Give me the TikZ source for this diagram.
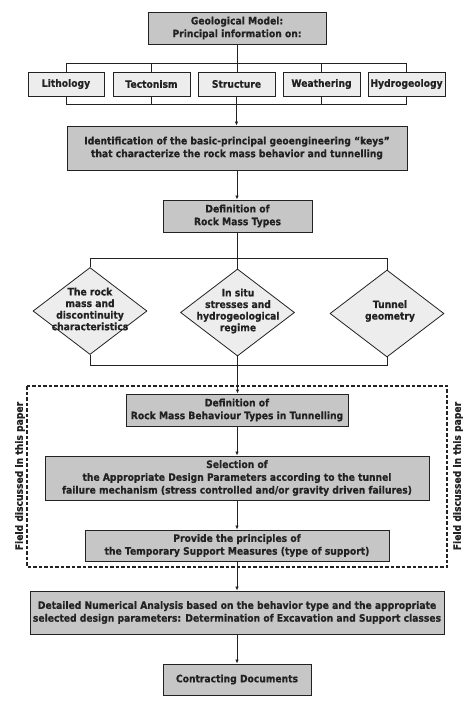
\documentclass[tikz,border=0pt]{standalone}
\usepackage{fontspec}
\setmainfont{DejaVu Sans}[FakeStretch=0.9, BoldFeatures={FakeBold=0.6}]
\usetikzlibrary{shapes.geometric,arrows.meta}
\definecolor{darkfill}{HTML}{C6C6C6}
\definecolor{lightfill}{HTML}{EDEDED}
\definecolor{ink}{HTML}{222222}
\begin{document}
\begin{tikzpicture}[x=1pt,y=-1pt,
  every node/.style={font=\bfseries\fontsize{10.2}{12.8}\selectfont, text=ink, align=center, inner sep=0pt},
  darkbox/.style={draw=ink, line width=0.9pt, fill=darkfill, rectangle},
  lightbox/.style={draw=ink, line width=0.9pt, fill=lightfill, rectangle},
  dia/.style={draw=ink, line width=0.8pt, fill=lightfill, diamond, minimum width=114pt, minimum height=87pt, inner sep=0pt},
  diatext/.style={font=\bfseries\fontsize{10.2}{11.6}\selectfont},
  conn/.style={draw=ink, line width=0.8pt},
  arr/.style={conn, -{Latex[length=4pt,width=3.5pt]}},
  sidelabel/.style={rotate=90, font=\bfseries\fontsize{10.2}{11}\selectfont}]
\useasboundingbox[fill=white] (0,0) rectangle (474,718);

% top
\node[darkbox, minimum width=178pt, minimum height=32pt] (geo) at (237,28) {Geological Model:\\Principal information on:};
\node[lightbox, minimum width=76pt, minimum height=24pt] (lith) at (66,84) {Lithology};
\node[lightbox, minimum width=77pt, minimum height=24pt] (tect) at (151.5,84) {Tectonism};
\node[lightbox, minimum width=77pt, minimum height=24pt] (struc) at (236.5,84) {Structure};
\node[lightbox, minimum width=77pt, minimum height=24pt] (weath) at (321.5,84) {Weathering};
\node[lightbox, minimum width=77pt, minimum height=24pt] (hydro) at (406.5,84) {Hydrogeology};

\node[darkbox, minimum width=340pt, minimum height=44pt] (ident) at (237,148) {Identification of the basic-principal geoengineering ``keys''\\that characterize the rock mass behavior and tunnelling};
\node[darkbox, minimum width=149pt, minimum height=32pt] (rmt) at (237.5,216) {Definition of\\Rock Mass Types};

\node[dia] (d1) at (90,311) {};
\node[dia] (d2) at (237.5,312.5) {};
\node[dia] (d3) at (387,313.5) {};
\node[diatext] (t1) at (90,309) {The rock\\mass and\\discontinuity\\characteristics};
\node[diatext] (t2) at (238,311) {In situ\\stresses and\\hydrogeological\\regime};
\node[diatext] (t3) at (390,311) {Tunnel\\geometry};

% dashed field
\draw[draw=ink, line width=1.4pt, dash pattern=on 3.5pt off 2pt] (27,386) rectangle (447,567);
\node[sidelabel] (fl) at (20,476) {Field discussed in this paper};
\node[sidelabel] (fr) at (458,476) {Field discussed in this paper};

\node[darkbox, minimum width=222pt, minimum height=32pt] (rmbt) at (237,410) {Definition of\\Rock Mass Behaviour Types in Tunnelling};
\node[darkbox, minimum width=384pt, minimum height=44pt] (sel) at (237,478) {Selection of\\the Appropriate Design Parameters according to the tunnel\\failure mechanism (stress controlled and/or gravity driven failures)};
\node[darkbox, minimum width=304pt, minimum height=31pt] (prov) at (237,545.5) {Provide the principles of\\the Temporary Support Measures (type of support)};

\node[darkbox, minimum width=414pt, minimum height=43pt] (num) at (237,612.5) {Detailed Numerical Analysis based on the behavior type and the appropriate\\selected design parameters: Determination of Excavation and Support classes};
\node[darkbox, minimum width=148pt, minimum height=31pt] (cont) at (237,679.5) {Contracting Documents};

% connectors
\draw[conn] (geo.south) -- (geo.south |- struc.north);
\draw[conn] (lith.north) -- ++(0,-8) -| (hydro.north);
\draw[conn] (tect.north) -- ++(0,-8);
\draw[conn] (weath.north) -- ++(0,-8);
\draw[conn] (lith.south) -- ++(0,8) -| (hydro.south);
\draw[conn] (tect.south) -- ++(0,8);
\draw[conn] (weath.south) -- ++(0,8);
\draw[arr] (struc.south) -- (ident.north -| struc.south);
\draw[arr] (ident.south) -- (ident.south |- rmt.north);
\draw[conn] (rmt.south) -- (rmt.south |- d2.north);
\draw[conn] (d1.north) -- ++(0,-9) -| (d3.north);
\draw[conn] (d1.south) -- ++(0,10) -| (d3.south);
\draw[arr] (d2.south) -- (d2.south |- rmbt.north);
\draw[arr] (rmbt.south) -- (sel.north);
\draw[arr] (sel.south) -- (prov.north);
\draw[arr] (prov.south) -- (num.north);
\draw[arr] (num.south) -- (cont.north);
\end{tikzpicture}
\end{document}
